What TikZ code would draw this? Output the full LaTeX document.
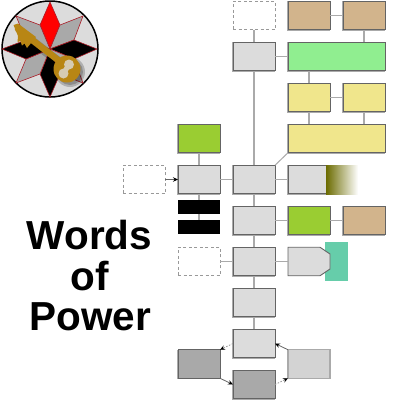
\documentclass[tikz,border=0pt]{standalone}
\usepackage{fontspec}
\setmainfont{Liberation Sans}
\usetikzlibrary{arrows.meta}
\definecolor{boxg}{RGB}{220,220,220}
\definecolor{edgeg}{RGB}{100,100,100}
\definecolor{tanb}{RGB}{210,180,140}
\definecolor{lgreen}{RGB}{144,238,144}
\definecolor{khaki}{RGB}{240,230,140}
\definecolor{ygreen}{RGB}{154,205,50}
\definecolor{darkb}{RGB}{169,169,169}
\definecolor{teal2}{RGB}{102,205,170}
\definecolor{oliv}{RGB}{107,107,0}
\definecolor{gold2}{RGB}{184,134,20}
\definecolor{conn}{RGB}{170,170,170}
\definecolor{dred}{RGB}{170,30,40}
\tikzset{
  base/.style={rectangle,inner sep=0pt,outer sep=0pt,minimum width=42,minimum height=28.5,line width=.9pt,draw=edgeg,
    preaction={draw=conn,line width=.8pt,fill=conn,transform canvas={xshift=-.6pt,yshift=-.6pt}}},
  gbox/.style={base,fill=boxg},
  tbox/.style={base,fill=tanb},
  gnbox/.style={base,fill=lgreen},
  kbox/.style={base,fill=khaki},
  ybox/.style={base,fill=ygreen},
  dkbox/.style={base,fill=darkb},
  lgbox/.style={rectangle,inner sep=0pt,outer sep=0pt,minimum width=42,minimum height=28.5,line width=1.1pt,draw=conn,fill=boxg!96!black},
  dbox/.style={rectangle,inner sep=0pt,outer sep=0pt,minimum width=42,minimum height=28.5,line width=.8pt,draw=conn!90!black,dashed,dash pattern=on 3pt off 2.5pt},
  blk/.style={rectangle,inner sep=0pt,outer sep=0pt,minimum width=42,minimum height=14,fill=black},
  ghost/.style={rectangle,inner sep=0pt,outer sep=0pt,minimum width=42,minimum height=28.5},
  cn/.style={draw=conn,line width=1.6pt},
  cnt/.style={draw=conn,line width=1pt},
  arr/.style={draw=edgeg,line width=.8pt,-{Stealth[length=5pt,width=4.5pt,black]}},
  arrd/.style={arr,dash pattern=on 1.5pt off 1.5pt,draw=conn!90!black},
  dia/.style={draw=dred,line width=.6pt,line join=miter}
}
\begin{document}
\begin{tikzpicture}[x=1pt,y=-1pt]
\useasboundingbox (0,0) rectangle (400,400);
% emblem
\fill[white] (0,0) rectangle (400,400);
\draw[black,line width=1.5pt,fill=boxg] (50,49) circle (48);
\draw[dia,fill=red] (50,2) -- (40,25) -- (50,49) -- (60,25) -- cycle;
\draw[dia,fill=darkb] (50,49) -- (60,25) -- (83,16) -- (74,40) -- cycle;
\draw[dia,fill=black] (50,49) -- (74,40) -- (97,49) -- (74,59) -- cycle;
\draw[dia,fill=darkb] (50,49) -- (74,59) -- (83,83) -- (60,74) -- cycle;
\draw[dia,fill=black] (50,49) -- (60,74) -- (50,97) -- (40,74) -- cycle;
\draw[dia,fill=darkb] (50,49) -- (40,74) -- (16,83) -- (26,59) -- cycle;
\draw[dia,fill=black] (50,49) -- (26,59) -- (2,49) -- (26,40) -- cycle;
\draw[dia,fill=darkb] (50,49) -- (26,40) -- (16,16) -- (40,25) -- cycle;
% key shadow
\begin{scope}[shift={(3,3)}]
\fill[black,opacity=.25] (18,30) -- (36,40) -- (28,52) -- (18,44) -- cycle;
\draw[black,opacity=.2,line width=9pt,line cap=round] (20,31) -- (60,62);
\fill[black,opacity=.2] (67,69) circle (15);
\fill[black,opacity=.2] (67,69) circle (13);
\end{scope}
% key
\fill[gold2] (13.5,25) -- (18,23.5) -- (36,37) -- (27,48) -- (24.5,43.5) -- (22,45.5) -- (20.5,41) -- (17.5,42) -- (18,36) -- cycle;
\draw[gold2,line width=6.5pt,line cap=round] (18,29) -- (58,60);
\fill[gold2] (67,69) circle (13.5);
\fill[boxg!80!gold2] (69,64.5) circle (5);
\fill[boxg!80!gold2] (63.5,73.5) circle (5);
\draw[boxg!80!gold2,line width=5pt] (69,64.5) -- (63.5,73.5);
% title
\node[font=\fontsize{40.5}{40.5}\selectfont\bfseries,anchor=base] (t1) at (89.5,249) {Words};
\node[font=\fontsize{40.5}{40.5}\selectfont\bfseries,anchor=base] (t2) at (89.5,290) {of};
\node[font=\fontsize{40.5}{40.5}\selectfont\bfseries,anchor=base] (t3) at (90.5,330) {Power};
% teal
\fill[teal2] (325,242) rectangle (348,281);
% main column
\node[dbox] (d0) at (254,15.5) {};
\node[gbox] (m1) at (254,56.5) {};
\node[gbox] (m2) at (254,179.5) {};
\node[gbox] (m3) at (254,220.5) {};
\node[gbox] (m4) at (254,261.5) {};
\node[gbox] (m5) at (254,302.5) {};
\node[gbox] (m6) at (254,343.5) {};
\node[dkbox] (m7) at (254,384.5) {};
% left column
\node[ybox] (lg) at (199,138.5) {};
\node[gbox] (l1) at (199,179.5) {};
\node[blk] (b1) at (199,207) {};
\node[blk] (b2) at (199,227) {};
\node[dbox] (dl) at (199,261.5) {};
\node[dkbox] (dk) at (199,364) {};
\node[dbox] (dd) at (144,179.5) {};
% right column
\node[tbox] (t4) at (309,15.5) {};
\node[tbox] (t5) at (364,15.5) {};
\node[gnbox,minimum width=97] (gw) at (336.5,56.5) {};
\node[kbox] (k1) at (309,97.5) {};
\node[kbox] (k2) at (364,97.5) {};
\node[kbox,minimum width=97] (kw) at (336.5,138.5) {};
\node[gbox] (r1) at (309,179.5) {};
\shade[left color=oliv,right color=white,shading=axis] (326,165) rectangle (358,194.5);
\node[ybox] (r2) at (309,220.5) {};
\node[tbox] (r3) at (364,220.5) {};
\node[ghost] (pe) at (309,261.5) {};
\draw[line width=.9pt,draw=edgeg,fill=boxg] (pe.north west) -- (320,247.25) -- (pe.east |- 0,254) -- (pe.east |- 0,269) -- (320,275.75) -- (pe.south west) -- cycle;
\node[lgbox] (rb) at (309,364) {};
% connectors
\draw[cn] (d0) -- (m1);
\draw[cn] (m1) -- (m2);
\draw[cn] (m1) -- (gw.west |- m1);
\draw[cn] (t4) -- (t5);
\draw[cn] (t5) -- (t5 |- gw.north);
\draw[cn] (k1 |- gw.south) -- (k1);
\draw[cn] (k1) -- (k2);
\draw[cn] (k1) -- (k1 |- kw.north);
\draw[cn] (k2) -- (k2 |- kw.north);
\draw[cnt] (m2.north east) -- (kw.south west);
\draw[cn] (m2) -- (r1);
\draw[cn] (l1) -- (m2);
\draw[cn] (lg) -- (l1);
\draw[cn] (l1) -- (b1);
\draw[cn] (b1) -- (b2);
\draw[cn] (m2) -- (m3);
\draw[cn] (m3) -- (r2);
\draw[cn] (r2) -- (r3);
\draw[cn] (m3) -- (m4);
\draw[cn] (dl) -- (m4);
\draw[cn] (m4) -- (pe);
\draw[cn] (m4) -- (m5);
\draw[cn] (m5) -- (m6);
\draw[arr] (dd) -- (l1);
\draw[arrd] (m6.west) -- (dk.north east);
\draw[arr] (dk.south east) -- (m7.west);
\draw[arrd] (m7.east) -- (rb.south west);
\draw[arr] (rb.north west) -- (m6.east);
\end{tikzpicture}
\end{document}
